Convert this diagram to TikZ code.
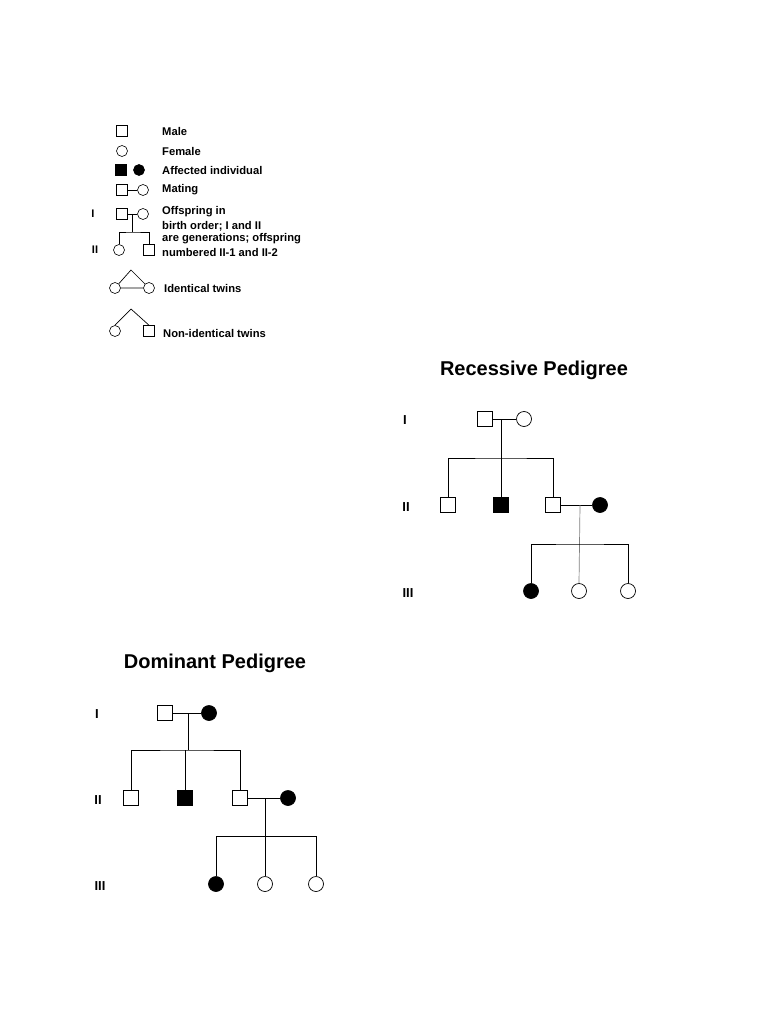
\documentclass[tikz,border=0pt]{standalone}
\usepackage{fontspec}
\setmainfont{Liberation Sans}
\begin{document}
\begin{tikzpicture}[x=1pt,y=-1pt,
  m/.style={draw,fill=white,minimum size=15pt,inner sep=0,line width=0.7pt},
  f/.style={draw,fill=white,circle,minimum size=15pt,inner sep=0,line width=0.7pt},
  aff/.style={fill=black},
  lm/.style={draw,fill=white,minimum size=11pt,inner sep=0,line width=0.6pt},
  lf/.style={draw,fill=white,circle,minimum size=11pt,inner sep=0,line width=0.6pt},
  ln/.style={line width=0.7pt},
  lt/.style={font=\bfseries\fontsize{11.2}{13}\selectfont,anchor=west,inner sep=0},
  gen/.style={font=\bfseries\fontsize{13}{15}\selectfont,inner sep=0},
  ttl/.style={font=\bfseries\fontsize{20}{24}\selectfont,inner sep=0}]
\useasboundingbox[fill=white] (0,0) rectangle (768,1024);
% legend
\node[lm] (a1) at (122,131) {};
\node[lt] (t1) at (162,131) {Male};
\node[lf] (a2) at (122,151) {};
\node[lt] (t2) at (162,151) {Female};
\node[lm,aff] (a3) at (121,170) {};
\node[lf,aff] (a4) at (139,170) {};
\node[lt] (t3) at (162,170) {Affected individual};
\node[lm] (a5) at (122,190) {};
\node[lf] (a6) at (143,190) {};
\draw[ln] (a5) -- (a6);
\node[lt] (t4) at (162,190) {Mating};
\node[gen,font=\bfseries\fontsize{11}{13}\selectfont] (g1) at (93,214) {I};
\node[lm] (b1) at (122,214) {};
\node[lf] (b2) at (143,214) {};
\draw[ln] (b1) -- (b2);
\coordinate (bd) at (132,214);
\coordinate (bb) at (132,232);
\node[lf] (b3) at (119,250) {};
\node[lm] (b4) at (149,250) {};
\draw[ln] (bd) -- (bb) (b3.north) |- (bb) -| (b4.north);
\node[gen,font=\bfseries\fontsize{11}{13}\selectfont] (g2) at (95,250) {II};
\node[lt] (t5) at (162,212) {Offspring in};
\node[lt] (t6) at (162,226) {birth order; I and II};
\node[lt] (t7) at (162,239) {are generations; offspring};
\node[lt] (t8) at (162,252) {numbered II-1 and II-2};
\coordinate (ap1) at (131,270);
\node[lf] (c1) at (115,288) {};
\node[lf] (c2) at (149,288) {};
\draw[ln] (c1) -- (ap1) -- (c2) (c1) -- (c2);
\node[lt] (t9) at (164,288) {Identical twins};
\coordinate (ap2) at (131,309);
\node[lf] (d1) at (115,331) {};
\node[lm] (d2) at (149,331) {};
\draw[ln] (d1.north) -- (ap2) -- (d2.north);
\node[lt] (t10) at (163,333) {Non-identical twins};
% recessive
\node[ttl] (rt) at (534,370) {Recessive Pedigree};
\node[gen] (r1) at (405,420) {I};
\node[gen] (r2) at (406,507) {II};
\node[gen] (r3) at (408,593) {III};
\node[m] (p1) at (485,419) {};
\node[f] (p2) at (524,419) {};
\draw[ln] (p1) -- (p2);
\node[m] (q1) at (448,505) {};
\node[m,aff] (q2) at (501,505) {};
\node[m] (q3) at (553,505) {};
\node[f,aff] (q4) at (600,505) {};
\draw[ln] (q3) -- (q4);
\coordinate (rb1) at (501,458);
\draw[ln] (501,419) -- (q2.north) (q1.north) |- (rb1) -| (q3.north);
\node[f,aff] (s1) at (531,591) {};
\node[f] (s2) at (579,591) {};
\node[f] (s3) at (628,591) {};
\coordinate (rb2) at (580,544);
\draw[ln,gray] (580,505) -- (s2.north);
\draw[ln] (s1.north) |- (rb2) -| (s3.north);
% dominant
\node[ttl] (dt) at (215,663) {Dominant Pedigree};
\node[gen] (e1) at (97,714) {I};
\node[gen] (e2) at (98,800) {II};
\node[gen] (e3) at (100,886) {III};
\node[m] (u1) at (165,713) {};
\node[f,aff] (u2) at (209,713) {};
\draw[ln] (u1) -- (u2);
\node[m] (v1) at (131,798) {};
\node[m,aff] (v2) at (185,798) {};
\node[m] (v3) at (240,798) {};
\node[f,aff] (v4) at (288,798) {};
\draw[ln] (v3) -- (v4);
\coordinate (db1) at (188,750);
\draw[ln] (188,713) -- (db1) (v1.north) |- (db1) -| (v3.north);
\draw[ln] (185,750) -- (v2.north);
\node[f,aff] (w1) at (216,884) {};
\node[f] (w2) at (265,884) {};
\node[f] (w3) at (316,884) {};
\coordinate (db2) at (265,836);
\draw[ln] (265,798) -- (w2.north) (w1.north) |- (db2) -| (w3.north);
\end{tikzpicture}
\end{document}
